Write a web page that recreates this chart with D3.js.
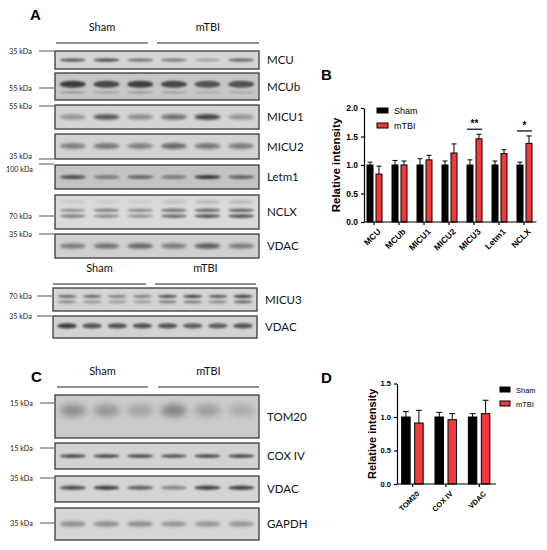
<!DOCTYPE html>
<html lang="en">
<head>
<meta charset="utf-8">
<title>Mitochondrial calcium blots</title>
<script src="https://d3js.org/d3.v7.min.js"></script>
<style>
  body { margin: 0; background: #fff; }
  svg text { font-family: "Liberation Sans", Arial, sans-serif; }
  .blot-label { font-family: Lato, "Open Sans", sans-serif; font-size: 11.5px; fill: #111; }
  .kda { font-family: Lato, "Open Sans", sans-serif; font-size: 7.2px; fill: #222; }
  .group { font-family: Lato, "Open Sans", sans-serif; font-size: 11px; fill: #111; }
  .panel { font-family: "Liberation Sans", Arial, sans-serif; font-weight: bold; font-size: 15px; }
  .axis text { font-weight: bold; font-size: 8px; fill: #000; }
  .axis path, .axis line { stroke: #000; stroke-width: 1.2px; }
</style>
</head>
<body>
<script>
// ---- chart data (B) ----
var proteinsB = ["MCU", "MCUb", "MICU1", "MICU2", "MICU3", "Letm1", "NCLX"];
var shamB = [1.0, 1.0, 1.0, 1.0, 1.0, 1.0, 1.0];
var shamErrB = [0.05, 0.08, 0.11, 0.07, 0.09, 0.07, 0.05];
var tbiB = [0.84, 1.0, 1.09, 1.21, 1.46, 1.20, 1.38];
var tbiErrB = [0.14, 0.07, 0.08, 0.16, 0.08, 0.07, 0.13];
var sigB = [{ name: "MICU3", mark: "**" }, { name: "NCLX", mark: "*" }];
var yTicksB = [0, 0.5, 1.0, 1.5, 2.0];

// ---- chart data (D) ----
var proteinsD = ["TOM20", "COX IV", "VDAC"];
var shamD = [1.0, 1.0, 1.0];
var shamErrD = [0.08, 0.07, 0.05];
var tbiD = [0.91, 0.96, 1.05];
var tbiErrD = [0.19, 0.09, 0.20];
var yTicksD = [0, 0.5, 1.0, 1.5];

var groups = ["Sham", "mTBI"];

// ---- blot band intensities (0..1), one value per lane ----
var bandMCU = [0.75, 0.8, 0.65, 0.6, 0.4, 0.7];
var bandMCUb = [0.9, 0.85, 0.88, 0.85, 0.8, 0.8];
var bandMCUbLow = [0.45, 0.4, 0.45, 0.4, 0.35, 0.35];
var bandMICU1 = [0.5, 0.8, 0.55, 0.7, 0.9, 0.5];
var bandMICU2 = [0.6, 0.65, 0.6, 0.72, 0.65, 0.62];
var bandLetm1 = [0.8, 0.6, 0.7, 0.6, 0.9, 0.7];
var bandNCLXTop = [0.15, 0.12, 0.12, 0.25, 0.3, 0.3];
var bandNCLXMid = [0.5, 0.6, 0.55, 0.65, 0.7, 0.72];
var bandNCLXLow = [0.6, 0.55, 0.5, 0.7, 0.8, 0.8];
var bandVDAC = [0.62, 0.68, 0.72, 0.62, 0.78, 0.62];
var bandMICU3 = [0.7, 0.7, 0.6, 0.6, 0.8, 0.85, 0.75, 0.9];
var bandMICU3Low = [0.55, 0.5, 0.45, 0.45, 0.6, 0.6, 0.55, 0.7];
var bandVDAC2 = [0.9, 0.8, 0.8, 0.8, 0.8, 0.75, 0.75, 0.8];
var bandTOM20 = [0.55, 0.5, 0.4, 0.6, 0.45, 0.35];
var bandCOX = [0.85, 0.85, 0.85, 0.8, 0.85, 0.85];
var bandVDACc = [0.8, 0.85, 0.72, 0.55, 0.85, 0.85];
var bandGAPDH = [0.55, 0.55, 0.55, 0.5, 0.5, 0.5];

var w = 547, h = 550;
var svg = d3.select("body").append("svg").attr("width", w).attr("height", h);

var defs = svg.append("defs");
[["blur1", 0.9], ["blur2", 1.6], ["blur4", 3.5]].forEach(function (f) {
  defs.append("filter").attr("id", f[0]).attr("x", "-30%").attr("y", "-100%")
    .attr("width", "160%").attr("height", "300%")
    .append("feGaussianBlur").attr("stdDeviation", f[1]);
});

function panelLabel(t, x, y) {
  svg.append("text").attr("class", "panel").attr("x", x).attr("y", y).text(t);
}

function groupHeader(y, shamX, tbiX) {
  svg.append("text").attr("class", "group").attr("text-anchor", "middle")
    .attr("x", (shamX[0] + shamX[1]) / 2).attr("y", y).text(groups[0]);
  svg.append("text").attr("class", "group").attr("text-anchor", "middle")
    .attr("x", (tbiX[0] + tbiX[1]) / 2).attr("y", y).text(groups[1]);
  [shamX, tbiX].forEach(function (r) {
    svg.append("line").attr("x1", r[0]).attr("x2", r[1]).attr("y1", y + 12).attr("y2", y + 12)
      .attr("stroke", "#222").attr("stroke-width", 1.2);
  });
}

// draw one blot strip: box + bands from an intensity array
function blot(cfg) {
  var g = svg.append("g");
  g.append("rect").attr("x", cfg.x0).attr("y", cfg.y0)
    .attr("width", cfg.x1 - cfg.x0).attr("height", cfg.y1 - cfg.y0)
    .attr("fill", cfg.bg);
  var lanes = d3.scaleBand().domain(d3.range(cfg.bands[0].values.length))
    .range([cfg.x0 + 3, cfg.x1 - 3]).paddingInner(0.12);
  var shade = d3.scaleLinear().domain([0, 1]).range(["#cfcfcf", "#1e1e1e"]);
  var clipId = "clip" + Math.round(cfg.y0);
  defs.append("clipPath").attr("id", clipId).append("rect")
    .attr("x", cfg.x0).attr("y", cfg.y0).attr("width", cfg.x1 - cfg.x0).attr("height", cfg.y1 - cfg.y0);
  var inner = g.append("g").attr("clip-path", "url(#" + clipId + ")");
  cfg.bands.forEach(function (b) {
    inner.selectAll(null).data(b.values).enter().append("ellipse")
      .attr("cx", function (d, i) { return lanes(i) + lanes.bandwidth() / 2; })
      .attr("cy", cfg.y0 + b.pos * (cfg.y1 - cfg.y0))
      .attr("rx", lanes.bandwidth() * 0.44)
      .attr("ry", b.ry)
      .attr("fill", function (d) { return shade(d); })
      .attr("opacity", function (d) { return 0.35 + d * 0.65; })
      .attr("filter", "url(#" + b.blur + ")");
  });
  g.append("rect").attr("x", cfg.x0).attr("y", cfg.y0)
    .attr("width", cfg.x1 - cfg.x0).attr("height", cfg.y1 - cfg.y0)
    .attr("fill", "none").attr("stroke", "#3a3a3a").attr("stroke-width", 1.3);
  svg.append("text").attr("class", "blot-label").attr("x", cfg.x1 + 8)
    .attr("y", (cfg.y0 + cfg.y1) / 2 + 4).text(cfg.name);
  (cfg.kda || []).forEach(function (k) {
    svg.append("text").attr("class", "kda").attr("x", k.tx).attr("y", k.y + 2.5).text(k.t);
    svg.append("line").attr("x1", k.lx).attr("x2", cfg.x0 - 1).attr("y1", k.ly || k.y).attr("y2", k.ly || k.y)
      .attr("stroke", "#555").attr("stroke-width", 1);
  });
}

// ---------------- Panel A ----------------
panelLabel("A", 30, 20);
groupHeader(31, [56, 148], [157, 259]);

blot({ name: "MCU", x0: 55, x1: 259, y0: 51, y1: 69, bg: "#d6d6d6",
  bands: [{ values: bandMCU, pos: 0.5, ry: 1.8, blur: "blur1" }],
  kda: [{ t: "35 kDa", tx: 9, y: 51, lx: 39 }] });
blot({ name: "MCUb", x0: 55, x1: 259, y0: 73, y1: 100, bg: "#c6c6c6",
  bands: [{ values: bandMCUb, pos: 0.42, ry: 3.5, blur: "blur1" },
          { values: bandMCUbLow, pos: 0.72, ry: 1.2, blur: "blur1" }],
  kda: [{ t: "55 kDa", tx: 9, y: 88, lx: 39 }] });
blot({ name: "MICU1", x0: 55, x1: 259, y0: 105, y1: 129, bg: "#d4d4d4",
  bands: [{ values: bandMICU1, pos: 0.5, ry: 2.8, blur: "blur2" }],
  kda: [{ t: "55 kDa", tx: 9, y: 106, lx: 39 }] });
blot({ name: "MICU2", x0: 55, x1: 259, y0: 134, y1: 159, bg: "#d2d2d2",
  bands: [{ values: bandMICU2, pos: 0.48, ry: 3, blur: "blur2" }],
  kda: [{ t: "35 kDa", tx: 9, y: 156, lx: 39, ly: 159 }] });
blot({ name: "Letm1", x0: 55, x1: 259, y0: 165, y1: 189, bg: "#c3c3c3",
  bands: [{ values: bandLetm1, pos: 0.5, ry: 2, blur: "blur1" }],
  kda: [{ t: "100 kDa", tx: 6, y: 169, lx: 39, ly: 164 }] });
blot({ name: "NCLX", x0: 55, x1: 259, y0: 195, y1: 229, bg: "#dadada",
  bands: [{ values: bandNCLXTop, pos: 0.2, ry: 2, blur: "blur2" },
          { values: bandNCLXMid, pos: 0.45, ry: 1.8, blur: "blur1" },
          { values: bandNCLXLow, pos: 0.62, ry: 1.8, blur: "blur1" }],
  kda: [{ t: "70 kDa", tx: 9, y: 216, lx: 39 }] });
blot({ name: "VDAC", x0: 55, x1: 259, y0: 234, y1: 258, bg: "#d0d0d0",
  bands: [{ values: bandVDAC, pos: 0.5, ry: 2.8, blur: "blur2" }],
  kda: [{ t: "35 kDa", tx: 9, y: 234, lx: 39 }] });

groupHeader(272, [53, 146], [155, 256]);
blot({ name: "MICU3", x0: 53, x1: 257, y0: 288, y1: 311, bg: "#d4d4d4",
  bands: [{ values: bandMICU3, pos: 0.36, ry: 1.6, blur: "blur1" },
          { values: bandMICU3Low, pos: 0.6, ry: 1.6, blur: "blur1" }],
  kda: [{ t: "70 kDa", tx: 9, y: 296, lx: 37 }] });
blot({ name: "VDAC", x0: 53, x1: 257, y0: 316, y1: 338, bg: "#d2d2d2",
  bands: [{ values: bandVDAC2, pos: 0.45, ry: 2.6, blur: "blur1" }],
  kda: [{ t: "35 kDa", tx: 9, y: 316, lx: 37 }] });

// ---------------- Panel C ----------------
panelLabel("C", 31, 382);
groupHeader(375, [57, 148], [158, 259]);
blot({ name: "TOM20", x0: 55, x1: 259, y0: 395, y1: 438, bg: "#cbcbcb",
  bands: [{ values: bandTOM20, pos: 0.36, ry: 6, blur: "blur4" }],
  kda: [{ t: "15 kDa", tx: 10, y: 403, lx: 40 }] });
blot({ name: "COX IV", x0: 55, x1: 259, y0: 443, y1: 469, bg: "#d2d2d2",
  bands: [{ values: bandCOX, pos: 0.5, ry: 1.8, blur: "blur1" }],
  kda: [{ t: "15 kDa", tx: 10, y: 448, lx: 40 }] });
blot({ name: "VDAC", x0: 55, x1: 259, y0: 476, y1: 502, bg: "#d4d4d4",
  bands: [{ values: bandVDACc, pos: 0.45, ry: 2.2, blur: "blur1" }],
  kda: [{ t: "35 kDa", tx: 10, y: 478, lx: 40 }] });
blot({ name: "GAPDH", x0: 55, x1: 259, y0: 508, y1: 540, bg: "#d6d6d6",
  bands: [{ values: bandGAPDH, pos: 0.5, ry: 2.8, blur: "blur2" }],
  kda: [{ t: "35 kDa", tx: 10, y: 523, lx: 40 }] });

// ---------------- bar charts ----------------
function barChart(o) {
  var g = svg.append("g");
  var x = d3.scaleBand().domain(o.cats).range(o.xr);
  var y = d3.scaleLinear().domain([0, o.ymax]).range(o.yr);
  var sub = d3.scaleOrdinal().domain(groups).range(o.offsets);
  var colors = d3.scaleOrdinal().domain(groups).range(["#000000", "#f23a3a"]);

  var rows = [];
  o.cats.forEach(function (c, i) {
    rows.push({ cat: c, grp: groups[0], v: o.sham[i], e: o.shamErr[i] });
    rows.push({ cat: c, grp: groups[1], v: o.tbi[i], e: o.tbiErr[i] });
  });
  var cx = function (d) { return x(d.cat) + x.bandwidth() / 2 + sub(d.grp); };

  // error bars (upper only)
  g.selectAll(".eb").data(rows).enter().append("path")
    .attr("d", function (d) {
      var xc = cx(d) + o.bw / 2, yt = y(d.v + d.e);
      return "M" + xc + "," + y(d.v) + "V" + yt + "M" + (xc - o.cap) + "," + yt + "H" + (xc + o.cap);
    })
    .attr("stroke", "#000").attr("stroke-width", 1).attr("fill", "none");

  g.selectAll(".bar").data(rows).enter().append("rect")
    .attr("x", cx).attr("width", o.bw)
    .attr("y", function (d) { return y(d.v); })
    .attr("height", function (d) { return y(0) - y(d.v); })
    .attr("fill", function (d) { return colors(d.grp); })
    .attr("stroke", "#000").attr("stroke-width", 1);

  var yAxis = g.append("g").attr("class", "axis")
    .attr("transform", "translate(" + o.axisX + ",0)")
    .call(d3.axisLeft(y).tickValues(o.yTicks).tickFormat(d3.format(".1f")).tickSize(3).tickSizeOuter(0));
  yAxis.selectAll("text").style("font-size", o.tickFont + "px");

  var xAxis = g.append("g").attr("class", "axis")
    .attr("transform", "translate(0," + y(0) + ")")
    .call(d3.axisBottom(x).tickSize(3).tickSizeOuter(0));
  xAxis.select(".domain").attr("d", "M" + o.axisX + ",0H" + o.xr[1]);
  xAxis.selectAll("text")
    .style("font-size", o.xFont + "px")
    .attr("text-anchor", "end")
    .attr("dx", 0).attr("dy", 0)
    .attr("transform", "translate(" + o.xLabelDx + "," + o.xLabelDy + ") rotate(-45)");

  svg.append("text")
    .attr("transform", "translate(" + o.titleX + "," + ((o.yr[0] + o.yr[1]) / 2) + ") rotate(-90)")
    .attr("text-anchor", "middle").attr("font-weight", "bold").attr("font-size", o.titleFont + "px")
    .text("Relative intensity");

  // legend
  var lg = svg.append("g").attr("transform", "translate(" + o.legend[0] + "," + o.legend[1] + ")");
  groups.forEach(function (gname, i) {
    lg.append("rect").attr("x", 0).attr("y", i * o.legendGap).attr("width", o.legendW).attr("height", 5)
      .attr("fill", colors(gname)).attr("stroke", "#000").attr("stroke-width", 1);
    lg.append("text").attr("x", o.legendW + 6).attr("y", i * o.legendGap + 5.5)
      .attr("font-size", o.legendFont + "px").text(gname);
  });

  (o.sig || []).forEach(function (s) {
    var i = o.cats.indexOf(s.name);
    var top = y(Math.max(o.sham[i] + o.shamErr[i], o.tbi[i] + o.tbiErr[i])) - 5;
    var x0 = x(s.name) + x.bandwidth() / 2 + o.offsets[0];
    var x1 = x(s.name) + x.bandwidth() / 2 + o.offsets[1] + o.bw;
    g.append("line").attr("x1", x0).attr("x2", x1).attr("y1", top).attr("y2", top)
      .attr("stroke", "#000").attr("stroke-width", 1.2);
    g.append("text").attr("x", (x0 + x1) / 2).attr("y", top - 2).attr("text-anchor", "middle")
      .attr("font-weight", "bold").attr("font-size", "10px").text(s.mark);
  });
}

panelLabel("B", 321, 80);
barChart({
  cats: proteinsB, sham: shamB, shamErr: shamErrB, tbi: tbiB, tbiErr: tbiErrB, sig: sigB,
  ymax: 2.0, yTicks: yTicksB, xr: [361.5, 536.5], yr: [222, 108], axisX: 364,
  offsets: [-7, 2], bw: 6, cap: 2.5, tickFont: 8.5, xFont: 8.5, xLabelDx: 3, xLabelDy: 6,
  titleX: 340, titleFont: 11.5, legend: [377, 108], legendW: 11, legendGap: 15, legendFont: 9
});

panelLabel("D", 321, 383);
barChart({
  cats: proteinsD, sham: shamD, shamErr: shamErrD, tbi: tbiD, tbiErr: tbiErrD,
  ymax: 1.5, yTicks: yTicksD, xr: [396, 496], yr: [484, 383.5], axisX: 397,
  offsets: [-11, 2], bw: 8.5, cap: 3, tickFont: 7.5, xFont: 7.5, xLabelDx: 3, xLabelDy: 6,
  titleX: 376, titleFont: 11, legend: [500, 387], legendW: 10, legendGap: 14, legendFont: 7.5
});
</script>
</body>
</html>
